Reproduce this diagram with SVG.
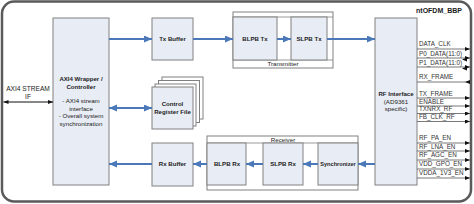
<svg xmlns="http://www.w3.org/2000/svg" width="474" height="204" viewBox="0 0 474 204">
<style>
.box{fill:#e8edf5;stroke:#808080;stroke-width:1}
.card{fill:#ffffff;stroke:#808080;stroke-width:1}
.grp{fill:#ffffff;stroke:#808080;stroke-width:1}
.b{font-family:"Liberation Sans",Arial,sans-serif;font-size:6.1px;font-weight:bold;fill:#222;text-anchor:middle}
.n{font-family:"Liberation Sans",Arial,sans-serif;font-size:6.2px;fill:#222;text-anchor:middle}
.sig{font-family:"Liberation Sans",Arial,sans-serif;font-size:6.3px;fill:#333}
.blue{stroke:#4a78b8;stroke-width:2;fill:none}
.sl{stroke:#555;stroke-width:0.8;fill:none}
.ah{fill:#111}
</style>
<defs>
<marker id="bA" markerUnits="userSpaceOnUse" markerWidth="9" markerHeight="8" refX="8" refY="3.5" orient="auto-start-reverse">
<path d="M0,0 L8,3.5 L0,7 z" fill="#4a78b8"/>
</marker>
<marker id="kA" markerUnits="userSpaceOnUse" markerWidth="6" markerHeight="5" refX="5" refY="2" orient="auto-start-reverse">
<path d="M0,0 L5,2 L0,4 z" fill="#111"/>
</marker>
</defs>
<rect x="2" y="1.5" width="469" height="200" rx="12" fill="#ffffff" stroke="#5a5a5a" stroke-width="2.5"/>
<text x="439" y="13" class="b" style="font-size:7px">ntOFDM_BBP</text>

<g id="axi">
<rect class="box" x="53" y="18" width="56" height="167"/>
<text x="81" y="81" class="b">AXI4 Wrapper /</text>
<text x="81" y="89" class="b">Controller</text>
<text x="81" y="103" class="n">- AXI4 stream</text>
<text x="81" y="110.5" class="n">interface</text>
<text x="81" y="118" class="n">- Overall system</text>
<text x="81" y="125.5" class="n">synchronization</text>
</g>
<g id="axi-if">
<text x="28" y="91" class="n" style="font-size:6.6px">AXI4 STREAM</text>
<text x="28" y="98.5" class="n" style="font-size:6.6px">IF</text>
</g>
<g id="txbuf">
<rect class="box" x="152" y="18" width="41" height="42"/>
<text x="172.5" y="41" class="b">Tx Buffer</text>
</g>
<g id="crf">
<rect class="card" x="162" y="77" width="41" height="42"/>
<rect class="card" x="158.5" y="80.5" width="41" height="42"/>
<rect class="card" x="155" y="84" width="41" height="42"/>
<rect class="box" x="152" y="87" width="41" height="42"/>
<text x="172.5" y="106" class="b">Control</text>
<text x="172.5" y="113.5" class="b">Register File</text>
</g>
<g id="rxbuf">
<rect class="box" x="152" y="143" width="41" height="43"/>
<text x="172.5" y="166" class="b">Rx Buffer</text>
</g>
<g id="transmitter">
<rect class="grp" x="233" y="12" width="100" height="56"/>
<line class="sl" x1="233" y1="17" x2="333" y2="17" style="stroke:#808080"/>
<line class="sl" x1="233" y1="60" x2="333" y2="60" style="stroke:#808080"/>
<text x="283" y="66" class="n">Transmitter</text>
<g id="blpbtx">
<rect class="box" x="233" y="17" width="44" height="43"/>
<text x="255" y="41" class="b">BLPB Tx</text>
</g>
<g id="slpbtx">
<rect class="box" x="291" y="17" width="36" height="43"/>
<text x="309" y="41" class="b">SLPB Tx</text>
</g>
</g>
<g id="receiver">
<rect class="grp" x="207" y="136" width="151" height="54"/>
<line class="sl" x1="207" y1="143" x2="358" y2="143" style="stroke:#808080"/>
<text x="283" y="141.5" class="n">Receiver</text>
<g id="blpbrx">
<rect class="box" x="207" y="143" width="39" height="42"/>
<text x="227" y="166" class="b">BLPB Rx</text>
</g>
<g id="slpbrx">
<rect class="box" x="263" y="143" width="40" height="42"/>
<text x="283" y="166" class="b">SLPB Rx</text>
</g>
<g id="sync">
<rect class="box" x="318" y="143" width="40" height="42"/>
<text x="338" y="166" class="b" style="font-size:5.6px">Synchronizer</text>
</g>
</g>
<g id="rfif">
<rect class="box" x="375" y="18" width="42" height="167"/>
<text x="396" y="96" class="b">RF Interface</text>
<text x="396" y="103.5" class="n">(AD9361</text>
<text x="396" y="111" class="n">specific)</text>
</g>

<g id="signals">
<text x="419" y="46" class="sig">DATA_CLK</text>
<text x="419" y="55.5" class="sig">P0_DATA(11:0)</text>
<text x="419" y="64.5" class="sig">P1_DATA(11:0)</text>
<text x="419" y="79" class="sig">RX_FRAME</text>
<text x="419" y="95.5" class="sig">TX_FRAME</text>
<text x="419" y="103.5" class="sig">ENABLE</text>
<text x="419" y="111" class="sig">TXNRX_RF</text>
<text x="419" y="119" class="sig">FB_CLK_RF</text>
<text x="419" y="140" class="sig">RF_PA_EN</text>
<text x="419" y="148.5" class="sig">RF_LNA_EN</text>
<text x="419" y="157" class="sig">RF_AGC_EN</text>
<text x="419" y="166" class="sig">VDD_GPO_EN</text>
<text x="419" y="175" class="sig">VDDA_1V3_EN</text>
</g>

<g id="connectors">
<line x1="3.5" y1="102" x2="53" y2="102" stroke="#111" stroke-width="1.2" marker-start="url(#kA)" marker-end="url(#kA)"/>
<line class="blue" x1="109" y1="39" x2="152" y2="39" marker-end="url(#bA)"/>
<line class="blue" x1="193" y1="39" x2="233" y2="39" marker-end="url(#bA)"/>
<line class="blue" x1="277" y1="39" x2="291" y2="39" marker-end="url(#bA)"/>
<line class="blue" x1="327" y1="39" x2="375" y2="39" marker-end="url(#bA)"/>
<line class="blue" x1="109" y1="108" x2="152" y2="108" marker-start="url(#bA)" marker-end="url(#bA)"/>
<line class="blue" x1="375" y1="164" x2="358" y2="164" marker-end="url(#bA)"/>
<line class="blue" x1="318" y1="164" x2="303" y2="164" marker-end="url(#bA)"/>
<line class="blue" x1="263" y1="164" x2="246" y2="164" marker-end="url(#bA)"/>
<line class="blue" x1="207" y1="164" x2="193" y2="164" marker-end="url(#bA)"/>
<line class="blue" x1="152" y1="164" x2="109" y2="164" marker-end="url(#bA)"/>

<line class="sl" x1="417" y1="49" x2="470" y2="49" marker-end="url(#kA)"/>
<line class="sl" x1="417" y1="58" x2="470" y2="58" marker-end="url(#kA)"/>
<polygon class="ah" points="462,59.5 467,57.5 467,61.5"/>
<line class="sl" x1="417" y1="67" x2="470" y2="67" marker-end="url(#kA)"/>
<polygon class="ah" points="462,68.5 467,66.5 467,70.5"/>
<line class="sl" x1="417" y1="82" x2="470" y2="82"/>
<polygon class="ah" points="465,82 470,80 470,84"/>
<line class="sl" x1="417" y1="98" x2="470" y2="98" marker-end="url(#kA)"/>
<line class="sl" x1="417" y1="106" x2="470" y2="106" marker-end="url(#kA)"/>
<line class="sl" x1="417" y1="113.5" x2="470" y2="113.5" marker-end="url(#kA)"/>
<line class="sl" x1="417" y1="121.5" x2="470" y2="121.5" marker-end="url(#kA)"/>
<line class="sl" x1="417" y1="143" x2="470" y2="143" marker-end="url(#kA)"/>
<line class="sl" x1="417" y1="151" x2="470" y2="151" marker-end="url(#kA)"/>
<line class="sl" x1="417" y1="160" x2="470" y2="160" marker-end="url(#kA)"/>
<line class="sl" x1="417" y1="169" x2="470" y2="169" marker-end="url(#kA)"/>
<line class="sl" x1="417" y1="178" x2="470" y2="178" marker-end="url(#kA)"/>
</g>
</svg>
